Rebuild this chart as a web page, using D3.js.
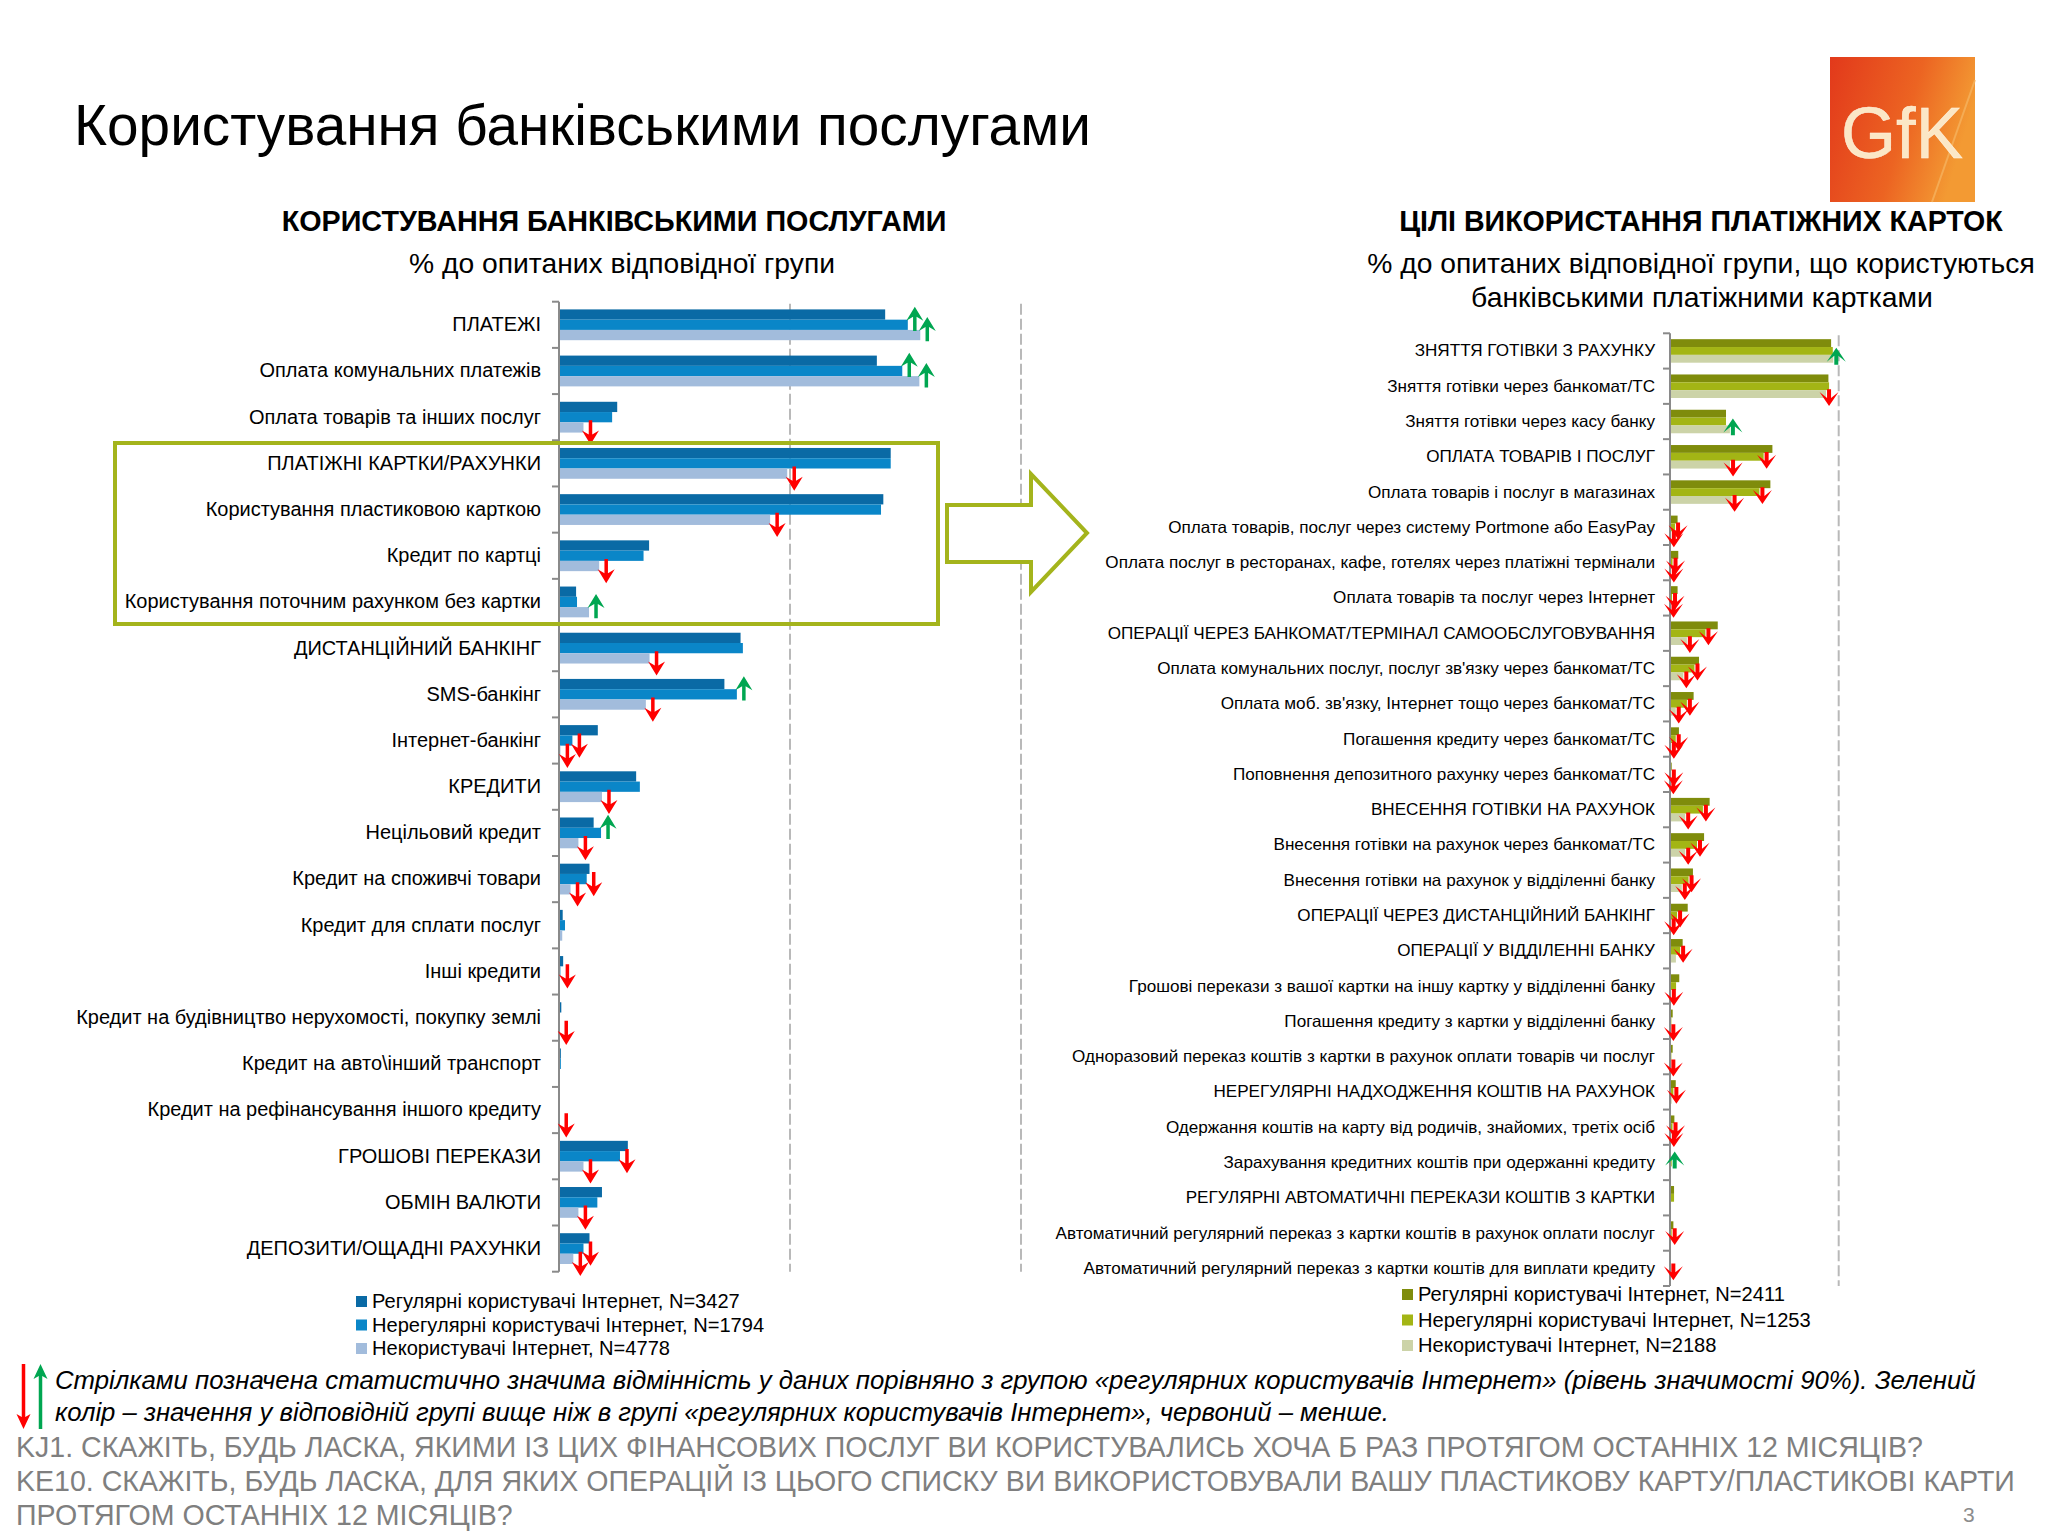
<!DOCTYPE html>
<html><head><meta charset="utf-8">
<script src="https://cdn.jsdelivr.net/npm/d3@7"></script>
<style>body{margin:0;background:#fff}svg{display:block}text{font-family:"Liberation Sans",Arial,sans-serif}</style>
</head><body>
<svg id="c" width="2048" height="1536"></svg>
<script>
// ---------- DATA ----------
const leftCategories = ["ПЛАТЕЖІ","Оплата комунальних платежів","Оплата товарів та інших послуг","ПЛАТІЖНІ КАРТКИ/РАХУНКИ","Користування пластиковою карткою","Кредит по картці","Користування поточним рахунком без картки","ДИСТАНЦІЙНИЙ БАНКІНГ","SMS-банкінг","Інтернет-банкінг","КРЕДИТИ","Нецільовий кредит","Кредит на споживчі товари","Кредит для сплати послуг","Інші кредити","Кредит на будівництво нерухомості, покупку землі","Кредит на авто\\інший транспорт","Кредит на рефінансування іншого кредиту","ГРОШОВІ ПЕРЕКАЗИ","ОБМІН ВАЛЮТИ","ДЕПОЗИТИ/ОЩАДНІ РАХУНКИ"];
const leftRegular    = [70.6,68.8,12.6,71.8,70.2,19.5,3.7,39.3,35.8,8.4,16.7,7.5,6.6,0.8,0.9,0.5,0.4,0.2,14.9,9.3,6.6];
const leftIrregular  = [75.5,74.3,11.5,71.8,69.7,18.3,3.9,39.8,38.5,2.9,17.5,9.1,6.0,1.3,0.3,0.2,0.4,0.1,13.2,8.3,5.3];
const leftNonUsers   = [78.2,78.0,5.3,49.4,45.7,8.7,6.5,19.6,18.8,0.3,9.3,4.2,2.5,0.7,0.1,0.05,0.1,0.05,5.3,4.2,3.1];
// significance vs regular users: 1 = higher (green), -1 = lower (red), 0 = none
const leftSigIrregular = [1,1,0,0,0,0,0,0,1,-1,0,1,-1,0,-1,0,0,0,-1,0,-1];
const leftSigNonUsers  = [1,1,-1,-1,-1,-1,1,-1,-1,-1,-1,-1,-1,0,0,-1,0,-1,-1,-1,-1];
const leftLegend = ["Регулярні користувачі Інтернет, N=3427","Нерегулярні користувачі Інтернет, N=1794","Некористувачі Інтернет, N=4778"];
const leftTicks = [50,100];

const rightCategories = ["ЗНЯТТЯ ГОТІВКИ З РАХУНКУ","Зняття готівки через банкомат/ТС","Зняття готівки через касу банку","ОПЛАТА ТОВАРІВ І ПОСЛУГ","Оплата товарів і послуг в магазинах","Оплата товарів, послуг через систему Portmone або EasyPay","Оплата послуг в ресторанах, кафе, готелях через платіжні термінали","Оплата товарів та послуг через Інтернет","ОПЕРАЦІЇ ЧЕРЕЗ БАНКОМАТ/ТЕРМІНАЛ САМООБСЛУГОВУВАННЯ","Оплата комунальних послуг, послуг зв'язку через банкомат/ТС","Оплата моб. зв'язку, Інтернет тощо через банкомат/ТС","Погашення кредиту через банкомат/ТС","Поповнення депозитного рахунку через банкомат/ТС","ВНЕСЕННЯ ГОТІВКИ НА РАХУНОК","Внесення готівки на рахунок через банкомат/ТС","Внесення готівки на рахунок у відділенні банку","ОПЕРАЦІЇ ЧЕРЕЗ ДИСТАНЦІЙНИЙ БАНКІНГ","ОПЕРАЦІЇ У ВІДДІЛЕННІ БАНКУ","Грошові перекази з вашої картки на іншу картку у відділенні банку","Погашення кредиту з картки у відділенні банку","Одноразовий переказ коштів з картки в рахунок оплати товарів чи послуг","НЕРЕГУЛЯРНІ НАДХОДЖЕННЯ КОШТІВ НА РАХУНОК","Одержання коштів на карту від родичів, знайомих, третіх осіб","Зарахування кредитних коштів при одержанні кредиту","РЕГУЛЯРНІ АВТОМАТИЧНІ ПЕРЕКАЗИ КОШТІВ З КАРТКИ","Автоматичний регулярний переказ з картки коштів в рахунок оплати послуг","Автоматичний регулярний переказ з картки коштів для виплати кредиту"];
const rightRegular   = [95.5,93.9,33.2,60.7,59.5,4.5,4.9,4.5,28.3,17.2,14.0,5.3,1.0,23.5,20.2,13.6,10.5,7.5,5.5,1.6,1.6,3.4,2.6,0.4,2.4,2.0,0.5];
const rightIrregular = [96.5,94.3,33.2,55.5,53.0,3.0,1.5,1.2,21.0,14.5,10.0,3.4,0.5,19.5,16.0,11.0,4.2,6.0,3.6,0.8,0.8,2.0,1.5,1.0,2.4,1.0,0.2];
const rightNonUsers  = [96.8,92.5,35.5,35.6,36.5,0.5,0.5,0.3,10.0,7.9,3.4,0.5,0.2,9.0,9.0,7.0,0.4,3.5,0.5,0.2,0.2,1.0,0.5,0.3,0.5,0.3,0.1];
const rightSigIrregular = [0,0,0,-1,-1,-1,-1,-1,-1,-1,-1,-1,-1,-1,-1,-1,-1,-1,0,0,0,-1,-1,1,0,-1,-1];
const rightSigNonUsers  = [1,-1,1,-1,-1,-1,-1,-1,-1,-1,-1,-1,-1,-1,-1,-1,-1,0,-1,-1,-1,0,-1,0,0,0,0];
const rightLegend = ["Регулярні користувачі Інтернет, N=2411","Нерегулярні користувачі Інтернет, N=1253","Некористувачі Інтернет, N=2188"];
const rightTicks = [100];

const seriesKeys = ["reg","irr","non"];
const leftColors  = ["#0a6aa5","#0a86c8","#a2bcdc"];
const rightColors = ["#7f8c0c","#a3b515","#ccd3a8"];
const UP = "#00a651", DOWN = "#ff0000", OLIVE = "#a4b41c";

// ---------- DRAW ----------
const svg = d3.select("#c");
const FONT = '"Liberation Sans",Arial,sans-serif';

function fit(sel, target){
  const n = sel.node(); const fs = parseFloat(sel.attr("font-size"));
  const w = n.getComputedTextLength(); sel.attr("font-size", fs*target/w);
}

// title
fit(svg.append("text").attr("x",74).attr("y",145).attr("font-size",56).attr("fill","#000")
  .text("Користування банківськими послугами"), 1017);

// headers
fit(svg.append("text").attr("x",614).attr("y",231).attr("text-anchor","middle").attr("font-weight","bold").attr("font-size",26)
  .text("КОРИСТУВАННЯ БАНКІВСЬКИМИ ПОСЛУГАМИ"), 665);
fit(svg.append("text").attr("x",622).attr("y",273).attr("text-anchor","middle").attr("font-size",26)
  .text("% до опитаних відповідної групи"), 426);
fit(svg.append("text").attr("x",1701).attr("y",231).attr("text-anchor","middle").attr("font-weight","bold").attr("font-size",26)
  .text("ЦІЛІ ВИКОРИСТАННЯ ПЛАТІЖНИХ КАРТОК"), 604);
fit(svg.append("text").attr("x",1701).attr("y",273).attr("text-anchor","middle").attr("font-size",26)
  .text("% до опитаних відповідної групи, що користуються"), 668);
fit(svg.append("text").attr("x",1702).attr("y",307).attr("text-anchor","middle").attr("font-size",26)
  .text("банківськими платіжними картками"), 462);

// GfK logo
const defs = svg.append("defs");
const lg = defs.append("linearGradient").attr("id","gfk").attr("x1","0").attr("y1","0").attr("x2","1").attr("y2","0.3");
lg.append("stop").attr("offset","0").attr("stop-color","#e2391b");
lg.append("stop").attr("offset","0.6").attr("stop-color","#ec6422");
lg.append("stop").attr("offset","1").attr("stop-color","#f39a33");
svg.append("rect").attr("x",1830).attr("y",57).attr("width",145).attr("height",145).attr("fill","url(#gfk)");
svg.append("line").attr("x1",1932).attr("y1",202).attr("x2",1975).attr("y2",80).attr("stroke","#f7b764").attr("stroke-width",2).attr("opacity",0.7);
svg.append("text").attr("x",1841).attr("y",158).attr("font-size",72).attr("fill","#fbe7c6")
  .attr("textLength",122).attr("lengthAdjust","spacingAndGlyphs").attr("font-family","'DejaVu Sans'").attr("font-weight","normal")
  .attr("stroke","#fff3df").attr("stroke-width",0.5).text("GfK");

function arrowPath(x, tailY, tipY, hw, hl, notch, sw){
  const s = tipY > tailY ? 1 : -1;
  const base = tipY - s*hl;
  const nY = base + s*notch;
  return `M${x-sw/2},${tailY} L${x+sw/2},${tailY} L${x+sw/2},${nY} L${x+hw/2},${base} L${x},${tipY} L${x-hw/2},${base} L${x-sw/2},${nY} Z`;
}

function drawChart(o){
  const g = svg.append("g");
  const x = d3.scaleLinear().domain([0,100]).range([o.x0, o.x100]);
  const y = d3.scaleBand().domain(o.categories).range([o.top, o.bottom]).paddingInner(0).paddingOuter(0);
  const inner = d3.scaleBand().domain(seriesKeys).range([0, y.bandwidth()]).paddingInner(0).paddingOuter(0.75);
  const series = [o.reg, o.irr, o.non];

  // dashed grid
  g.selectAll("line.grid").data(o.ticks).join("line").attr("class","grid")
    .attr("x1",d=>x(d)).attr("x2",d=>x(d)).attr("y1",o.top+2).attr("y2",o.bottom)
    .attr("stroke","#b9b9b9").attr("stroke-width",2).attr("stroke-dasharray","11,4");

  // bars
  seriesKeys.forEach((k,si)=>{
    g.selectAll(null).data(o.categories).join("rect")
      .attr("x",x(0)).attr("y",d=>y(d)+inner(k))
      .attr("width",(d,i)=>Math.max(0,x(series[si][i])-x(0)))
      .attr("height",inner.bandwidth()).attr("fill",o.colors[si]);
  });

  // axis
  const ax = g.append("g").attr("transform",`translate(${x(0)},0)`)
    .call(d3.axisLeft(y).tickSize(0).tickPadding(o.pad));
  ax.select(".domain").remove();
  ax.selectAll("text").attr("font-size",o.fs).attr("fill","#000").attr("font-family",FONT);
  const ref = ax.selectAll("text").filter(d=>d===o.refLabel);
  const w = ref.node().getComputedTextLength();
  ax.selectAll("text").attr("font-size", o.fs*o.refWidth/w);
  g.append("line").attr("x1",x(0)).attr("x2",x(0)).attr("y1",o.top).attr("y2",o.bottom)
    .attr("stroke","#8a8a8a").attr("stroke-width",2);
  const bounds = d3.range(o.categories.length+1).map(i=>o.top+i*y.step());
  g.selectAll(null).data(bounds).join("line")
    .attr("x1",x(0)-7).attr("x2",x(0)).attr("y1",d=>d).attr("y2",d=>d)
    .attr("stroke","#8a8a8a").attr("stroke-width",2);

  // significance arrows
  const sigs = [null, o.sigIrr, o.sigNon];
  [1,2].forEach(si=>{
    const k = seriesKeys[si];
    o.categories.forEach((c,i)=>{
      const s = sigs[si][i]; if(!s) return;
      const top = y(c)+inner(k), bot = top+inner.bandwidth();
      const ax_ = x(series[si][i]) + o.adx;
      let tail, tip;
      if(s>0){ tail = bot + o.upTail; tip = top - o.upTip; }
      else { tail = top - o.dnTail; tip = bot + o.dnTip; }
      g.append("path").attr("d", arrowPath(ax_, tail, tip, o.hw, o.hl, o.notch, o.sw))
        .attr("fill", s>0?UP:DOWN);
    });
  });

  // legend
  const lgG = g.append("g");
  o.legend.forEach((t,i)=>{
    const yy = o.legY + i*o.legStep;
    lgG.append("rect").attr("x",o.legX).attr("y",yy-o.legSq+1).attr("width",o.legSq).attr("height",o.legSq).attr("fill",o.colors[i]);
    const tx = lgG.append("text").attr("x",o.legX+o.legSq+5).attr("y",yy+2).attr("font-size",19).attr("fill","#000").text(t);
    if(i===0) o._legFs = 19*o.legW/tx.node().getComputedTextLength();
  });
  lgG.selectAll("text").attr("font-size",o._legFs);
  return {x,y};
}

drawChart({categories:leftCategories, reg:leftRegular, irr:leftIrregular, non:leftNonUsers,
  sigIrr:leftSigIrregular, sigNon:leftSigNonUsers, colors:leftColors, ticks:leftTicks,
  x0:559, x100:1021, top:301.7, bottom:1271.7, pad:18, fs:19,
  refLabel:"Кредит на будівництво нерухомості, покупку землі", refWidth:465,
  adx:7, upTail:1, upTip:13, dnTail:2, dnTip:12, hw:17, hl:14, notch:4, sw:3.5,
  legend:leftLegend, legX:356, legY:1306, legStep:23.5, legSq:11, legW:368});

drawChart({categories:rightCategories, reg:rightRegular, irr:rightIrregular, non:rightNonUsers,
  sigIrr:rightSigIrregular, sigNon:rightSigNonUsers, colors:rightColors, ticks:rightTicks,
  x0:1670, x100:1838.7, top:333.3, bottom:1286, pad:15, fs:17,
  refLabel:"Автоматичний регулярний переказ з картки коштів в рахунок оплати послуг", refWidth:600,
  adx:3, upTail:2, upTip:7, dnTail:1, dnTip:8, hw:19, hl:14, notch:6, sw:4,
  legend:rightLegend, legX:1402, legY:1299, legStep:25.5, legSq:11, legW:367});

// highlight box and block arrow
svg.append("rect").attr("x",115).attr("y",443).attr("width",823).attr("height",181)
  .attr("fill","none").attr("stroke",OLIVE).attr("stroke-width",4);
svg.append("path").attr("d","M947,505 L1031,505 L1031,474 L1087,533 L1031,592 L1031,562 L947,562 Z")
  .attr("fill","#fff").attr("stroke",OLIVE).attr("stroke-width",4).attr("stroke-linejoin","miter");

// footnote arrows
svg.append("path").attr("d",arrowPath(23.5,1364,1429,14,15,3,3.5)).attr("fill",DOWN);
svg.append("path").attr("d",arrowPath(40.5,1429,1364,14,15,3,3.5)).attr("fill",UP);

fit(svg.append("text").attr("x",55).attr("y",1389).attr("font-size",24).attr("font-style","italic").attr("fill","#000")
  .text("Стрілками позначена статистично значима відмінність у даних порівняно з групою «регулярних користувачів Інтернет» (рівень значимості 90%). Зелений"), 1921);
fit(svg.append("text").attr("x",55).attr("y",1421).attr("font-size",24).attr("font-style","italic").attr("fill","#000")
  .text("колір – значення у відповідній групі вище ніж в групі «регулярних користувачів Інтернет», червоний – менше."), 1335);

const qs = ["KJ1. СКАЖІТЬ, БУДЬ ЛАСКА, ЯКИМИ ІЗ ЦИХ ФІНАНСОВИХ ПОСЛУГ ВИ КОРИСТУВАЛИСЬ ХОЧА Б РАЗ ПРОТЯГОМ ОСТАННІХ 12 МІСЯЦІВ?",
  "KE10. СКАЖІТЬ, БУДЬ ЛАСКА, ДЛЯ ЯКИХ ОПЕРАЦІЙ ІЗ ЦЬОГО СПИСКУ ВИ ВИКОРИСТОВУВАЛИ ВАШУ ПЛАСТИКОВУ КАРТУ/ПЛАСТИКОВІ КАРТИ",
  "ПРОТЯГОМ ОСТАННІХ 12 МІСЯЦІВ?"];
const q0 = svg.append("text").attr("x",16).attr("y",1457).attr("font-size",26).attr("fill","#7f7f7f").text(qs[0]);
fit(q0, 1908);
const qfs = q0.attr("font-size");
svg.append("text").attr("x",16).attr("y",1491).attr("font-size",qfs).attr("fill","#7f7f7f").text(qs[1]);
svg.append("text").attr("x",16).attr("y",1525).attr("font-size",qfs).attr("fill","#7f7f7f").text(qs[2]);
svg.append("text").attr("x",1963).attr("y",1522).attr("font-size",21).attr("fill","#8c8c8c").text("3");
</script>
</body></html>
